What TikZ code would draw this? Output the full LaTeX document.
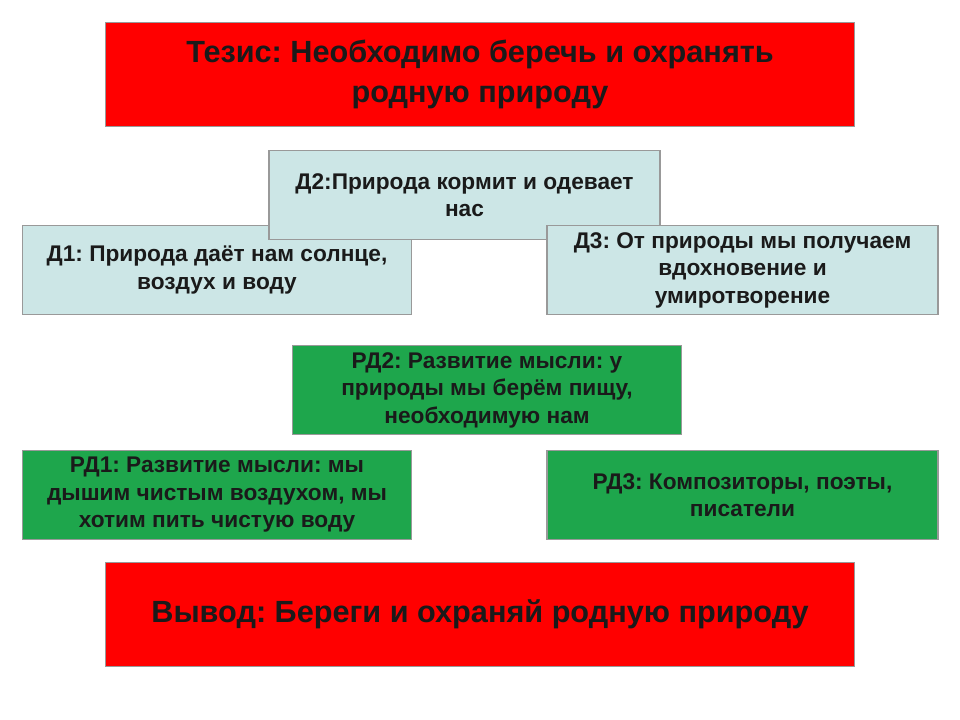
\documentclass[tikz,border=0pt]{standalone}
\usepackage{fontspec}
\setmainfont{Liberation Sans}
\definecolor{redb}{HTML}{FF0000}
\definecolor{blueb}{HTML}{CCE6E6}
\definecolor{greenb}{HTML}{1EA64C}
\definecolor{txt}{HTML}{1A1A1A}
\begin{document}
\frenchspacing
\begin{tikzpicture}[x=0.75pt,y=-0.75pt,
  box/.style={draw=gray!80,line width=1.2pt,inner sep=0pt,align=center,font=\bfseries\fontsize{17}{20.6}\selectfont,text=txt},
  big/.style={box,fill=redb,font=\bfseries\fontsize{23}{30}\selectfont},
  lb/.style={box,fill=blueb},
  gb/.style={box,fill=greenb}]
\useasboundingbox[fill=white] (0,0) rectangle (960,720);
\node[big,minimum width=562pt,minimum height=78pt] (t) at (480,74.5) {Тезис: Необходимо беречь и охранять\\родную природу};
\node[lb,minimum width=292pt,minimum height=67pt] (d1) at (217,270) {Д1: Природа даёт нам солнце,\\воздух и воду};
\node[lb,minimum width=293pt,minimum height=67pt] (d2) at (464.5,195) {Д2:Природа кормит и одевает\\нас};
\node[lb,minimum width=293pt,minimum height=67pt] (d3) at (742.5,270) {Д3: От природы мы получаем\\вдохновение и\\умиротворение};
\node[gb,minimum width=292pt,minimum height=67pt] (rd2) at (487,390) {РД2: Развитие мысли: у\\природы мы берём пищу,\\необходимую нам};
\node[gb,minimum width=292pt,minimum height=67pt] (rd1) at (217,495) {РД1: Развитие мысли: мы\\дышим чистым воздухом, мы\\хотим пить чистую воду};
\node[gb,minimum width=293pt,minimum height=67pt] (rd3) at (742.5,495) {РД3: Композиторы, поэты,\\писатели};
\node[big,minimum width=562pt,minimum height=78pt] (c) at (480,614.5) {Вывод: Береги и охраняй родную природу};
\end{tikzpicture}
\end{document}
